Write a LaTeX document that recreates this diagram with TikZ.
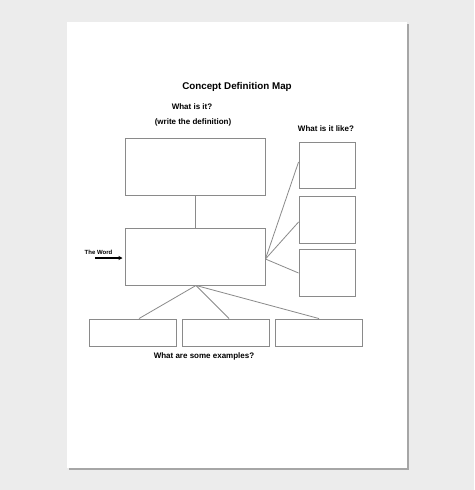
\documentclass[tikz,border=0pt]{standalone}
\usepackage{fontspec}
\setmainfont{Liberation Sans}
\usetikzlibrary{arrows.meta}
\definecolor{bg}{HTML}{ECECEC}
\definecolor{ln}{HTML}{8A8A8A}
\tikzset{
  box/.style={draw=ln, line width=0.9pt, inner sep=0pt},
  conn/.style={draw=ln, line width=0.8pt},
  lbl/.style={font=\bfseries\fontsize{8}{9}\selectfont, inner sep=0pt}
}
\begin{document}
\begin{tikzpicture}[x=1pt,y=-1pt]
\useasboundingbox (0,0) rectangle (474,490);
\fill[bg] (0,0) rectangle (474,490);
% page shadow and page
\fill[gray!70] (69,24) rectangle (409,470);
\fill[white] (67,22) rectangle (407,468);
% texts
\node[font=\bfseries\fontsize{9.8}{12}\selectfont, inner sep=0pt] (title) at (237,87) {Concept Definition Map};
\node[lbl] (q1) at (192,107) {What is it?};
\node[lbl] (q1b) at (193,122) {(write the definition)};
\node[lbl] (q2) at (326,129) {What is it like?};
\node[lbl] (q3) at (204,356) {What are some examples?};
\node[font=\bfseries\fontsize{6}{7}\selectfont, inner sep=0pt] (word) at (98.5,252.5) {The Word};
% boxes
\node[box, minimum width=140pt, minimum height=57pt] (def) at (195,166.5) {};
\node[box, minimum width=140pt, minimum height=57pt] (main) at (195,256.5) {};
\node[box, minimum width=56pt, minimum height=46pt] (r1) at (327,165) {};
\node[box, minimum width=56pt, minimum height=47pt] (r2) at (327,219.5) {};
\node[box, minimum width=56pt, minimum height=47pt] (r3) at (327,272.5) {};
\node[box, minimum width=87pt, minimum height=27pt] (e1) at (132.5,332.5) {};
\node[box, minimum width=87pt, minimum height=27pt] (e2) at (225.5,332.5) {};
\node[box, minimum width=87pt, minimum height=27pt] (e3) at (318.5,332.5) {};
% connectors
\coordinate (mr) at ([yshift=-2.5pt]main.east);
\coordinate (mb) at ([xshift=1pt]main.south);
\draw[conn] (def.south) -- (main.north);
\draw[conn] (mr) -- ([yshift=3pt]r1.west);
\draw[conn] (mr) -- ([yshift=-2.5pt]r2.west);
\draw[conn] (mr) -- ([yshift=-0.5pt]r3.west);
\draw[conn] (mb) -- ([xshift=6.5pt]e1.north);
\draw[conn] (mb) -- ([xshift=3.5pt]e2.north);
\draw[conn] (mb) -- ([xshift=0.5pt]e3.north);
% arrow
\coordinate (as) at (95,258);
\coordinate (ae) at (122.5,258);
\draw[line width=1.2pt, -{Stealth[length=4pt,width=4pt]}] (as) -- (ae);
\end{tikzpicture}
\end{document}
